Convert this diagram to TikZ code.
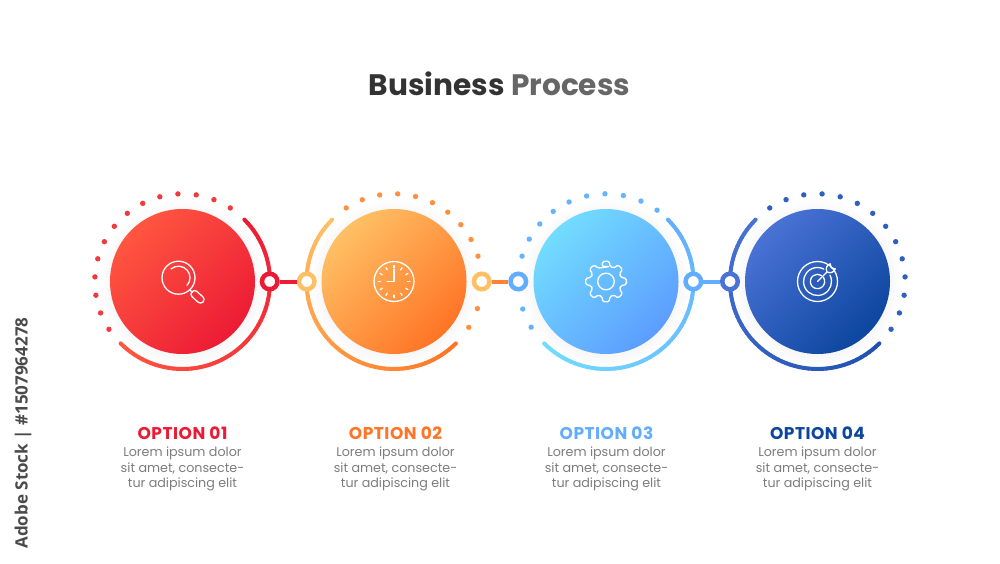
\documentclass[tikz,border=0pt]{standalone}
\usepackage{fontspec}
\setmainfont{Poppins}
\newfontfamily\sidefont{Open Sans}
\newfontfamily\optfont[LetterSpace=3]{Poppins}
\definecolor{redA}{HTML}{FF5640}\definecolor{redB}{HTML}{EC1B35}
\definecolor{orgA}{HTML}{FFC065}\definecolor{orgB}{HTML}{FF7425}
\definecolor{bluA}{HTML}{72DCFF}\definecolor{bluB}{HTML}{5C9DFF}\definecolor{bluC}{HTML}{63ADFF}
\definecolor{navA}{HTML}{4A72D6}\definecolor{navB}{HTML}{0C469E}\definecolor{navC}{HTML}{1F52B0}
\definecolor{redDot}{HTML}{EF3A3E}\definecolor{orgDot}{HTML}{FF9040}
\definecolor{bluDot}{HTML}{66B3FF}\definecolor{navDot}{HTML}{2F5FC0}
\definecolor{titleA}{HTML}{333333}\definecolor{titleB}{HTML}{666666}
\definecolor{bodyGray}{HTML}{7D7D7D}\definecolor{sideGray}{HTML}{4A4A4A}
\tikzset{
  bigdisc/.style n args={2}{circle,inner sep=0pt,minimum size=145pt,top color=#1,bottom color=#2,shading angle=45},
  ringnode/.style={circle,inner sep=0pt,minimum size=15.5pt,line width=4.5pt,fill=white,draw=#1},
  linkline/.style={line width=4pt},
  arcline/.style={line width=4pt,line cap=round},
  iconline/.style={draw=white,line width=1.3pt,line cap=round,line join=round},
  optlabel/.style={font=\fontsize{17}{18}\selectfont\optfont\bfseries,inner sep=0pt},
  bodytext/.style={font=\fontsize{12.7}{15.3}\selectfont,text=bodyGray,align=center,inner sep=0pt},
}
\newcommand{\softshadow}[1]{%
  \foreach \rr in {73,74.5,...,84}{\fill[black,opacity=0.0025] (#1,279.5) circle[radius=\rr];}}
\newcommand{\gradarc}[5]{%
  \foreach \ii in {0,...,59}{%
    \pgfmathsetmacro\angA{#2+(#3-(#2))*\ii/60}%
    \pgfmathsetmacro\angB{#2+(#3-(#2))*(\ii+1)/60}%
    \pgfmathsetmacro\mixp{100-100*\ii/59}%
    \draw[arcline,draw=#4!\mixp!#5] (#1,281.5) ++(\angA:87.5) arc[start angle=\angA,end angle=\angB,radius=87.5];}}
\begin{document}
\begin{tikzpicture}[x=1pt,y=1pt]
\useasboundingbox (0,0) rectangle (1000,563);
\fill[white] (0,0) rectangle (1000,563);
% title and side label
\node[inner sep=0pt,font=\fontsize{29.6}{32}\selectfont\bfseries] (title) at (499.5,479.3) {\textcolor{titleA}{Business} \textcolor{titleB}{Process}};
\node[inner sep=0pt,rotate=90,text=sideGray,font=\fontsize{17}{18}\selectfont\sidefont\bfseries] (side) at (23,130) {Adobe Stock | \#1507964278};
% discs
\softshadow{182.5}\softshadow{394}\softshadow{606}\softshadow{817.5}
\node[bigdisc={redA}{redB}] (d1) at (182.5,281.5) {};
\node[bigdisc={orgA}{orgB}] (d2) at (394,281.5) {};
\node[bigdisc={bluA}{bluB}] (d3) at (606,281.5) {};
\node[bigdisc={navA}{navB}] (d4) at (817.5,281.5) {};
% arcs
\gradarc{182.5}{45}{-135}{redB}{redA}
\gradarc{394}{135}{315}{orgA}{orgB}
\gradarc{606}{45}{-135}{bluC}{bluA}
\gradarc{817.5}{135}{315}{navA}{navC}
% dots
\foreach \ang in {57,69,...,213}{\fill[redDot] (d1.center) ++(\ang:87.7) circle[radius=2.7];}
\foreach \ang in {123,111.2,99.4,87.6,75.8,64,52.2,40.4,28.6,16.8,-18,-31.5}{\fill[orgDot] (d2.center) ++(\ang:87.7) circle[radius=2.7];}
\foreach \ang in {54.4,66.5,78.6,90.7,102.8,114.9,127,139,151.1,163.2,198.3,211.4}{\fill[bluDot] (d3.center) ++(\ang:87.7) circle[radius=2.7];}
\foreach \ang in {123,111,...,-33}{\fill[navDot] (d4.center) ++(\ang:87.7) circle[radius=2.7];}
% rings and links
\node[ringnode=redB] (r1) at (269.7,281.5) {};
\node[ringnode=orgA] (r2) at (306.7,281.5) {};
\node[ringnode=orgA] (r3) at (481.7,281.5) {};
\node[ringnode=bluC] (r4) at (518.3,281.5) {};
\node[ringnode=bluC] (r5) at (693.3,281.5) {};
\node[ringnode=navA] (r6) at (730,281.5) {};
\draw[linkline,draw=redB] (r1) -- (r2);
\draw[linkline,draw=orgB!80!orgA] (r3) -- (r4);
\draw[linkline,draw=bluC] (r5) -- (r6);
% magnifier
\begin{scope}[shift={(d1.center)}]
  \draw[iconline] (-4,3.8) circle[radius=16.5];
  \draw[iconline] (-4,3.8) ++(130:11.5) arc[start angle=130,end angle=-42,radius=11.5];
  \draw[iconline] (8,-9) -- (10,-11);
  \begin{scope}[shift={(15,-15.3)},rotate=-42]
    \draw[iconline,rounded corners=3.4pt] (-7.5,-3.6) rectangle (7.5,3.6);
  \end{scope}
\end{scope}
% clock
\begin{scope}[shift={(d2.center)}]
  \draw[iconline] (0,0) circle[radius=20];
  \foreach \ang in {0,30,...,330}{\draw[iconline] (\ang:13.5) -- (\ang:16);}
  \draw[iconline] (0,12) -- (0,0) -- (-7,0);
\end{scope}
% gear
\begin{scope}[shift={(d3.center)}]
  \draw[iconline] (0,0) circle[radius=8.3];
  \draw[iconline,rounded corners=1.6pt] (75:15.5)
    \foreach \ang in {90,45,...,-225}{ -- ({\ang+15}:15.5) -- ({\ang+9}:20.6) -- ({\ang-9}:20.6) -- ({\ang-15}:15.5)} -- cycle;
\end{scope}
% target
\begin{scope}[shift={(d4.center)}]
  \draw[iconline] (0,0) circle[radius=20];
  \draw[iconline] (27:14) arc[start angle=27,end angle=-297,radius=14];
  \draw[iconline] (35:7.2) arc[start angle=35,end angle=-305,radius=7.2];
  \draw[iconline] (0,0) -- (9.5,9.5);
  \begin{scope}[shift={(9.5,9.5)},rotate=45]
    \draw[iconline] (0,0) .. controls (1.5,4) and (5,5) .. (8,3.6) .. controls (7.4,2.2) and (6.5,1) .. (6,0) .. controls (6.5,-1) and (7.4,-2.2) .. (8,-3.6) .. controls (5,-5) and (1.5,-4) .. (0,0);
  \end{scope}
\end{scope}
% labels
\node[optlabel,text=redB] (o1) at (182.5,130) {OPTION 01};
\node[optlabel,text=orgB] (o2) at (395.5,130) {OPTION 02};
\node[optlabel,text=bluC] (o3) at (606.5,130) {OPTION 03};
\node[optlabel,text=navB] (o4) at (817.5,130) {OPTION 04};
\foreach \nm/\xx in {t1/182.5,t2/395.5,t3/606.5,t4/817.5}{
  \node[bodytext] (\nm) at (\xx,94) {Lorem ipsum dolor\\sit amet, consecte-\\tur adipiscing elit};}
\end{tikzpicture}
\end{document}
